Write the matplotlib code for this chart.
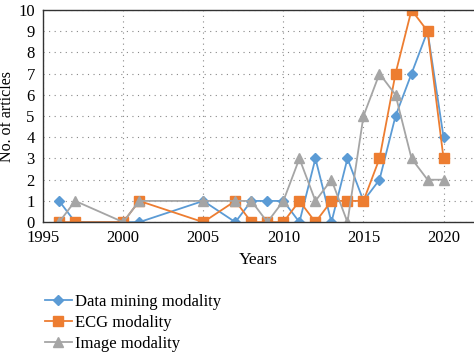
import matplotlib
matplotlib.use('Agg')
from matplotlib import pyplot as plt
from matplotlib import font_manager

years = [1996, 1997, 2000, 2001, 2005, 2007, 2008, 2009, 2010, 2011,
         2012, 2013, 2014, 2015, 2016, 2017, 2018, 2019, 2020]
data_mining = [1, 0, 0, 0, 1, 0, 1, 1, 1, 0, 3, 0, 3, 1, 2, 5, 7, 9, 4]
ecg = [0, 0, 0, 1, 0, 1, 0, 0, 0, 1, 0, 1, 1, 1, 3, 7, 10, 9, 3]
image = [0, 1, 0, 1, 1, 1, 1, 0, 1, 3, 1, 2, 0, 5, 7, 6, 3, 2, 2]

names = sorted({f.name for f in font_manager.fontManager.ttflist})
serifs = [n for n in ['Liberation Serif', 'DejaVu Serif', 'Noto Serif'] if n in names]
plt.rcParams['font.family'] = serifs + ['DejaVu Sans']

fig = plt.figure(figsize=(4.74, 3.56), dpi=100)
ax = fig.add_axes([0.091, 0.376, 0.909, 0.596])

ax.plot(years, data_mining, color='#5B9BD5', marker='D', markersize=5, lw=1.3,
        label='Data mining modality')
ax.plot(years, ecg, color='#ED7D31', marker='s', markersize=7, lw=1.3,
        label='ECG modality')
ax.plot(years, image, color='#A5A5A5', marker='^', markersize=7, lw=1.3,
        label='Image modality')

ax.set_xlim(1995, 2021.9)
ax.set_ylim(0, 10)
ax.set_xticks(range(1995, 2021, 5))
ax.set_yticks(range(0, 11))
ax.tick_params(length=0, labelsize=12)
ax.tick_params(axis='x', pad=6)
ax.tick_params(axis='y', pad=6)
ax.grid(True, linestyle=(0, (1, 4)), color='#888888', lw=0.8)
for s in ax.spines.values():
    s.set_color('#333333')
    s.set_linewidth(1.0)
ax.spines['right'].set_visible(False)

ax.set_xlabel('Years', fontsize=12.5, labelpad=4)
ax.set_ylabel('No. of articles', fontsize=11.5, labelpad=2)

fig.legend(loc='upper left', bbox_to_anchor=(0.095, 0.175), frameon=False,
           fontsize=12, handlelength=1.6, handletextpad=0.2, labelspacing=0.3,
           borderpad=0, borderaxespad=0)

fig.savefig('out.png', dpi=100)
